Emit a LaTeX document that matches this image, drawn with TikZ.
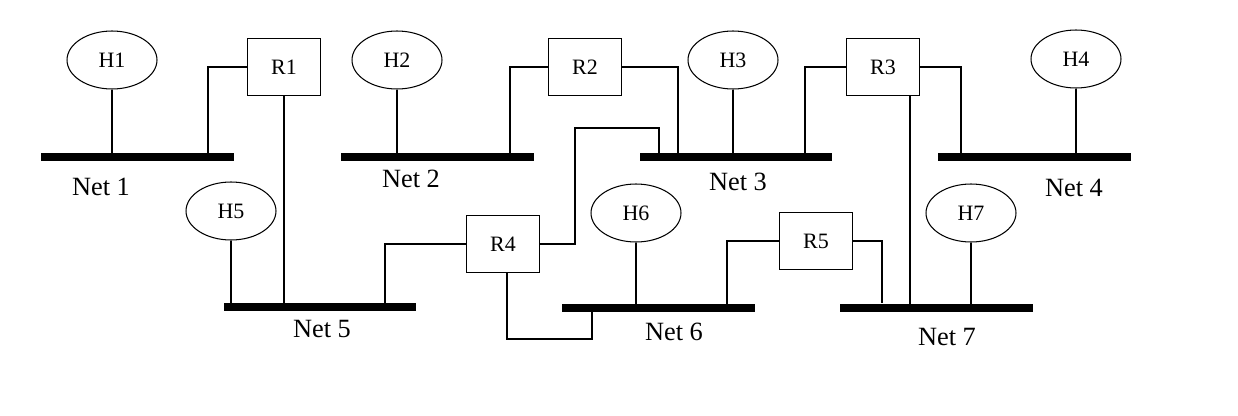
\documentclass[tikz,border=0pt]{standalone}
\usepackage{fontspec}
\setmainfont{Liberation Serif}
\usetikzlibrary{shapes.geometric}
\begin{document}
\begin{tikzpicture}
[
x=0.02cm, y=-0.02cm,
host/.style={ellipse, draw, line width=0.6pt, minimum width=1.8cm, minimum height=1.16cm, inner sep=0pt, font=\fontsize{12.5}{14}\selectfont},
router/.style={rectangle, draw, line width=0.6pt, minimum width=1.46cm, minimum height=1.14cm, inner sep=0pt, font=\fontsize{12.5}{14}\selectfont},
bus/.style={rectangle, fill=black, minimum width=3.86cm, minimum height=0.16cm, inner sep=0pt},
lbl/.style={font=\fontsize{15}{17}\selectfont},
link/.style={line width=0.6pt}
]
\useasboundingbox (0,0) rectangle (1238,416);
% networks
\node (net1) [bus] at (137.5,157) {};
\node (net2) [bus] at (437.5,157) {};
\node (net3) [bus] at (736,157) {};
\node (net4) [bus] at (1034.5,157) {};
\node (net5) [bus] at (320,307) {};
\node (net6) [bus] at (658.5,308) {};
\node (net7) [bus] at (936.5,308) {};
\node (l1) [lbl] at (101,187) {Net 1};
\node (l2) [lbl] at (411,179) {Net 2};
\node (l3) [lbl] at (738,182) {Net 3};
\node (l4) [lbl] at (1074,188) {Net 4};
\node (l5) [lbl] at (322,329) {Net 5};
\node (l6) [lbl] at (674,332) {Net 6};
\node (l7) [lbl] at (947,337) {Net 7};
% hosts
\node (H1) [host] at (112,60) {H1};
\node (H2) [host] at (397,60) {H2};
\node (H3) [host] at (733,60) {H3};
\node (H4) [host] at (1076,59) {H4};
\node (H5) [host] at (231,211) {H5};
\node (H6) [host] at (636,213) {H6};
\node (H7) [host] at (971,213) {H7};
% routers
\node (R1) [router] at (284,67) {R1};
\node (R2) [router] at (585,67) {R2};
\node (R3) [router] at (883,67) {R3};
\node (R4) [router] at (503,244) {R4};
\node (R5) [router] at (816,241) {R5};
% bend points
\coordinate (c1) at (208,157);
\coordinate (c2) at (510,157);
\coordinate (c3) at (678,157);
\coordinate (c4) at (805,157);
\coordinate (c5) at (961,157);
\coordinate (c6) at (385,307);
\coordinate (c7a) at (575,128);
\coordinate (c7b) at (659,157);
\coordinate (c8a) at (507,339);
\coordinate (c8b) at (592,308);
\coordinate (c9) at (727,308);
\coordinate (c10) at (882,303);
% host stems
\foreach \h/\n in {H1/net1, H2/net2, H3/net3, H4/net4, H5/net5, H6/net6, H7/net7}
  \draw [link] (\h.south) -- (\h.south |- \n.center);
% router links
\draw [link] (R1.west) -| (c1);
\draw [link] (R1.south) -- (R1.south |- net5.center);
\draw [link] (R2.west) -| (c2);
\draw [link] (R2.east) -| (c3);
\draw [link] (R3.west) -| (c4);
\draw [link] (R3.east) -| (c5);
\draw [link] ([xshift=0.54cm]R3.south) -- ([xshift=0.54cm]R3.south |- net7.center);
\draw [link] (R4.west) -| (c6);
\draw [link] (R4.east) -| (c7a) -| (c7b);
\draw [link] ([xshift=0.08cm]R4.south) |- (c8a) -| (c8b);
\draw [link] (R5.west) -| (c9);
\draw [link] (R5.east) -| (c10);
\end{tikzpicture}
\end{document}
